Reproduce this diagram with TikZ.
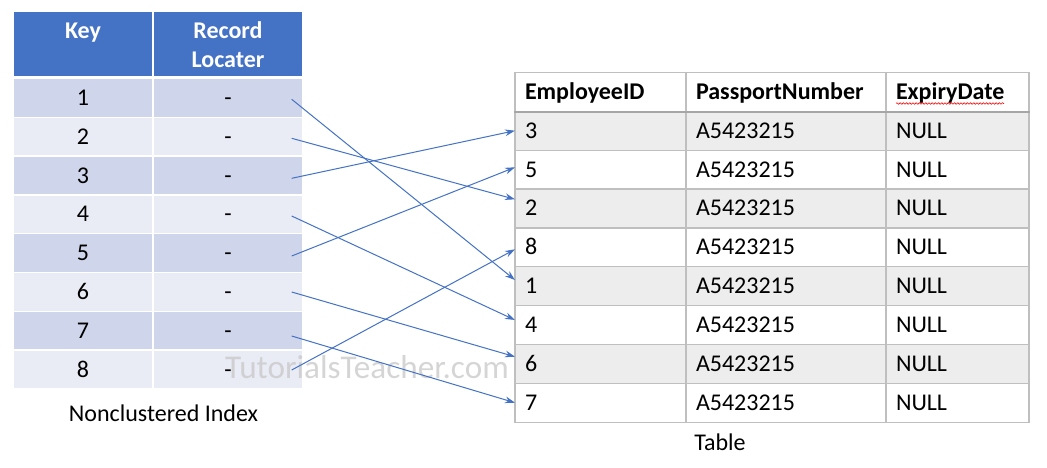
\documentclass[tikz,border=0pt]{standalone}
\usepackage{fontspec}
\setmainfont{Carlito}
\usetikzlibrary{arrows.meta,decorations.pathmorphing}
\definecolor{hdrblue}{HTML}{4472C4}
\definecolor{rowdark}{HTML}{CFD5EA}
\definecolor{rowlight}{HTML}{E9EBF5}
\definecolor{gridgray}{HTML}{BFBFBF}
\definecolor{hdrline}{HTML}{A6A6A6}
\definecolor{shadegray}{HTML}{EDEDED}
\definecolor{arrowblue}{HTML}{4472C4}
\definecolor{wmark}{HTML}{C8C8C8}
\def\u{0.75pt}
\begin{document}
\begin{tikzpicture}[x=0.75pt,y=-0.75pt,
  font=\fontsize{18}{22}\selectfont,
  lcell/.style={draw=white, line width=1pt, inner sep=0pt, minimum height=38.8*\u,
    text height=11.3pt, text depth=0pt},
  hcell/.style={draw=white, line width=1pt, fill=hdrblue, inner sep=0pt, minimum height=65.3*\u},
  htext/.style={anchor=base, text=white, font=\fontsize{18}{22}\selectfont\bfseries},
  rcell/.style={draw=gridgray, line width=0.9pt, inner ysep=0pt, inner xsep=10*\u,
    minimum height=38.9*\u, text height=11.3pt, text depth=0pt, align=left},
  rc1/.style={rcell, minimum width=171*\u, text width=151*\u},
  rc2/.style={rcell, minimum width=200*\u, text width=180*\u},
  rc3/.style={rcell, minimum width=143*\u, text width=123*\u},
  link/.style={arrowblue, line width=0.75pt, -{Stealth[length=7.5pt,width=5pt]}},
  caption/.style={anchor=base, text=black}
]
\useasboundingbox (0,0) rectangle (1047,468);
\fill[white] (0,0) rectangle (1047,468);

% ---------- Nonclustered index ----------
\node[hcell, minimum width=140*\u] (hk) at (83,44.35) {};
\node[hcell, minimum width=150*\u] (hl) at (228,44.35) {};
\node[htext] (tk) at (83,38.3) {Key};
\node[htext] (tr) at (228,38.3) {Record};
\node[htext] (tl) at (228,67.7) {Locater};

\foreach \k/\c in {1/rowdark,2/rowlight,3/rowdark,4/rowlight,5/rowdark,6/rowlight,7/rowdark,8/rowlight}{
  \node[lcell, fill=\c, minimum width=140*\u] (key\k) at (83,{78.5+(\k-0.5)*38.8}) {\k};
  \node[lcell, fill=\c, minimum width=150*\u] (loc\k) at (228,{78.5+(\k-0.5)*38.8}) {-};
}
\node[caption] (capidx) at (163.5,421.7) {Nonclustered Index};

% ---------- Table ----------
\node[rc1, font=\fontsize{18}{22}\selectfont\bfseries] (h1) at (600.5,{72.3+0.5*38.9}) {EmployeeID};
\node[rc2, font=\fontsize{18}{22}\selectfont\bfseries] (h2) at (786,{72.3+0.5*38.9}) {PassportNumber};
\node[rc3, font=\fontsize{18}{22}\selectfont\bfseries] (h3) at (957.5,{72.3+0.5*38.9}) {ExpiryDate};

\foreach \r/\id/\c in {1/3/shadegray,2/5/white,3/2/shadegray,4/8/white,5/1/shadegray,6/4/white,7/6/shadegray,8/7/white}{
  \node[rc1, fill=\c] (a\r) at (600.5,{72.3+(\r+0.5)*38.9}) {\id};
  \node[rc2, fill=\c] (b\r) at (786,{72.3+(\r+0.5)*38.9}) {A5423215};
  \node[rc3, fill=\c] (c\r) at (957.5,{72.3+(\r+0.5)*38.9}) {NULL};
}
\draw[hdrline, line width=1.6pt] (h1.south west) -- (h3.south east);
\draw[red, line width=0.45pt, decorate, decoration={snake, amplitude=0.6pt, segment length=2.4pt}]
  (896,103.5) -- (1004,103.5);
\node[caption] (captab) at (720,450) {Table};

% ---------- watermark ----------
\node[anchor=base, text=wmark, text opacity=0.75, font=\fontsize{24.9}{29}\selectfont] (wm) at (367,378.3) {TutorialsTeacher.com};

% ---------- arrows ----------
\coordinate (s1) at (291.7,99.3);
\coordinate (s2) at (291.7,138.3);
\coordinate (s3) at (291.7,178.3);
\coordinate (s4) at (291.7,216);
\coordinate (s5) at (291.7,256);
\coordinate (s6) at (291.7,292);
\coordinate (s7) at (291.7,336);
\coordinate (s8) at (291.7,370);

\coordinate (t1) at (515,280);
\coordinate (t2) at (515,199.3);
\coordinate (t3) at (515,130.7);
\coordinate (t4) at (515,320);
\coordinate (t5) at (515,167.3);
\coordinate (t6) at (515,356.7);
\coordinate (t7) at (515,402.7);
\coordinate (t8) at (515,249.3);

\foreach \k in {1,...,8}{
  \draw[link] (s\k) -- (t\k);
}
\end{tikzpicture}
\end{document}
